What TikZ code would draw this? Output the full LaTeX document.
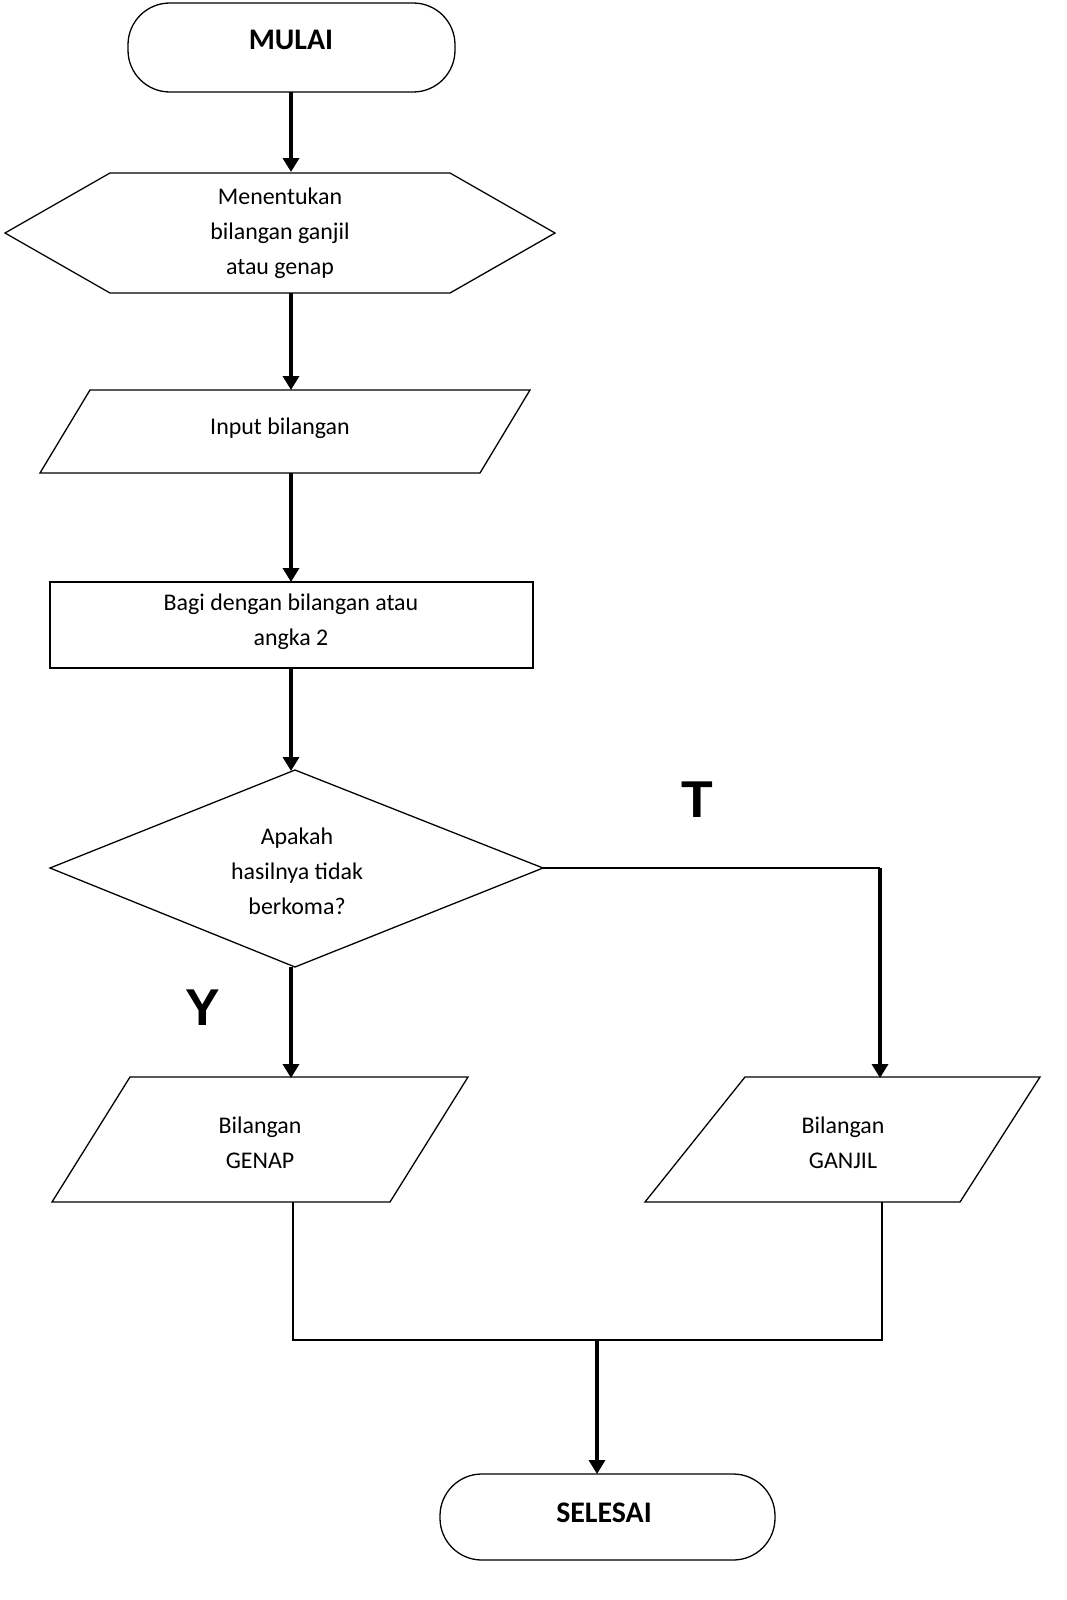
\documentclass[tikz,border=0pt]{standalone}
\usepackage{fontspec}
\setmainfont{Carlito}
\newfontfamily\lab{Liberation Sans}
\usetikzlibrary{arrows.meta}
\begin{document}
\begin{tikzpicture}[x=1bp,y=-1bp,
  shp/.style={draw,line width=1.3pt},
  txt/.style={align=center,font=\fontsize{24}{35}\selectfont},
  arr/.style={line width=4pt,-{Triangle[length=14pt,width=16pt]}},
  ln/.style={line width=1.6pt}]
\useasboundingbox (0,0) rectangle (1066,1600);
% MULAI
\draw[shp,rounded corners=42pt] (128,3) rectangle (455,92);
\node[font=\fontsize{30}{36}\selectfont\bfseries] (mulai) at (291,40) {MULAI};
\coordinate (m1) at (291,92); \coordinate (h0) at (291,172);
\draw[arr] (m1) -- (h0);
% hexagon
\draw[shp] (5,233) -- (110,173) -- (450,173) -- (555,233) -- (450,293) -- (110,293) -- cycle;
\node[txt] (hex) at (280,233) {Menentukan\\bilangan ganjil\\atau genap};
\coordinate (h1) at (291,293); \coordinate (i0) at (291,390);
\draw[arr] (h1) -- (i0);
% input
\draw[shp] (90,390) -- (530,390) -- (480,473) -- (40,473) -- cycle;
\node[txt] (inp) at (280,428) {Input bilangan};
\coordinate (i1) at (291,473); \coordinate (b0) at (291,582);
\draw[arr] (i1) -- (b0);
% process
\draw[shp] (50,582) rectangle (533,668);
\node[txt] (bagi) at (291,622) {Bagi dengan bilangan atau\\angka 2};
\coordinate (b1) at (291,668); \coordinate (d0) at (291,771);
\draw[arr] (b1) -- (d0);
% diamond
\draw[shp] (295,770) -- (543,868) -- (295,967) -- (50,868) -- cycle;
\node[txt] (dec) at (297,871) {Apakah\\hasilnya tidak\\berkoma?};
\node[font=\lab\fontsize{52}{60}\selectfont\bfseries] (T) at (697,800) {T};
\node[font=\lab\fontsize{52}{60}\selectfont\bfseries] (Y) at (203,1008) {Y};
\coordinate (dr) at (543,868); \coordinate (rc) at (880,868); \coordinate (g0) at (880,1078);
\draw[ln] (dr) -- (rc);
\draw[arr] (rc) -- (g0);
\coordinate (d1) at (291,967); \coordinate (e0) at (291,1078);
\draw[arr] (d1) -- (e0);
% genap
\draw[shp] (130,1077) -- (468,1077) -- (390,1202) -- (52,1202) -- cycle;
\node[txt] (genap) at (260,1143) {Bilangan\\GENAP};
% ganjil
\draw[shp] (745,1077) -- (1040,1077) -- (960,1202) -- (645,1202) -- cycle;
\node[txt] (ganjil) at (843,1143) {Bilangan\\GANJIL};
% merge
\coordinate (e1) at (293,1202); \coordinate (e2) at (293,1340);
\coordinate (g1) at (882,1202); \coordinate (g2) at (882,1340);
\draw[ln] (e1) -- (e2) -- (g2) -- (g1);
\coordinate (j) at (597,1340); \coordinate (s0) at (597,1474);
\draw[arr] (j) -- (s0);
% SELESAI
\draw[shp,rounded corners=42pt] (440,1474) rectangle (775,1560);
\node[font=\fontsize{30}{36}\selectfont\bfseries] (sel) at (604,1513) {SELESAI};
\end{tikzpicture}
\end{document}
